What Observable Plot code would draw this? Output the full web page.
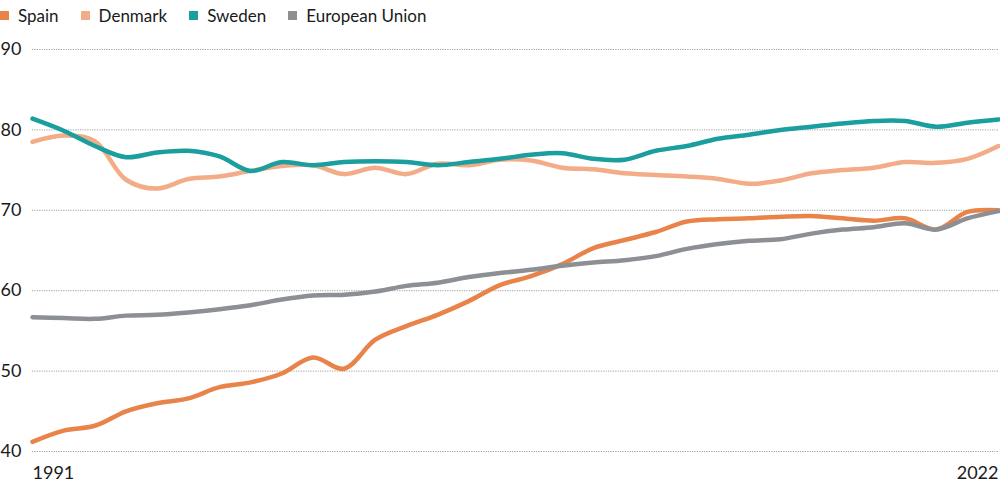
<!DOCTYPE html>
<html>
<head>
<meta charset="utf-8">
<script src="https://cdn.jsdelivr.net/npm/d3@7"></script>
<script src="https://cdn.jsdelivr.net/npm/@observablehq/plot@0.6"></script>
<style>
  body { margin: 0; background: #fff; font-family: Lato, "Noto Sans", sans-serif; }
  #legend { height: 30px; display: flex; align-items: center; font-size: 17px; color: #1a1a1a; }
  #legend .item { display: flex; align-items: center; margin-right: 22px; }
  #legend .sw { width: 9px; height: 9px; margin-right: 9px; }
  #chart svg { display: block; }
</style>
</head>
<body>
<div id="legend"></div>
<div id="chart"></div>
<script>
const years = d3.range(1991, 2023);
const seriesNames = ["Spain", "Denmark", "Sweden", "European Union"];
const seriesColors = ["#E8834A", "#F2AC87", "#1A9E9E", "#8C8F93"];
const yTicks = [40, 50, 60, 70, 80, 90];
const xTicks = [1991, 2022];

const spain = [41.2, 42.6, 43.2, 45.0, 46.0, 46.6, 48.0, 48.6, 49.7, 51.7, 50.3, 53.9, 55.6, 57.0, 58.7, 60.7, 61.8, 63.3, 65.3, 66.3, 67.3, 68.6, 68.9, 69.0, 69.2, 69.3, 69.0, 68.7, 69.0, 67.6, 69.8, 70.0];
const denmark = [78.5, 79.3, 78.6, 73.8, 72.7, 73.9, 74.2, 74.9, 75.5, 75.6, 74.5, 75.3, 74.5, 75.8, 75.6, 76.3, 76.2, 75.3, 75.1, 74.6, 74.4, 74.2, 73.9, 73.3, 73.7, 74.6, 75.0, 75.3, 76.0, 75.9, 76.4, 78.0];
const sweden = [81.4, 79.9, 78.0, 76.6, 77.2, 77.4, 76.7, 74.9, 76.0, 75.6, 76.0, 76.1, 76.0, 75.6, 76.0, 76.4, 76.9, 77.1, 76.4, 76.3, 77.4, 78.0, 78.9, 79.4, 80.0, 80.4, 80.8, 81.1, 81.1, 80.4, 80.9, 81.3];
const eu = [56.7, 56.6, 56.5, 56.9, 57.0, 57.3, 57.7, 58.2, 58.9, 59.4, 59.5, 59.9, 60.6, 61.0, 61.7, 62.2, 62.6, 63.1, 63.5, 63.8, 64.3, 65.2, 65.8, 66.2, 66.4, 67.1, 67.6, 67.9, 68.4, 67.6, 69.0, 69.9];

const seriesValues = [spain, denmark, sweden, eu];
const data = [];
seriesNames.forEach((name, i) => {
  years.forEach((yr, j) => data.push({ series: name, year: yr, value: seriesValues[i][j] }));
});

// legend
const legend = document.getElementById("legend");
seriesNames.forEach((name, i) => {
  const item = document.createElement("div");
  item.className = "item";
  const sw = document.createElement("div");
  sw.className = "sw";
  sw.style.background = seriesColors[i];
  const lb = document.createElement("span");
  lb.textContent = name;
  item.appendChild(sw);
  item.appendChild(lb);
  legend.appendChild(item);
});

const chart = Plot.plot({
  width: 1000,
  height: 456,
  marginTop: 19,
  marginBottom: 35,
  marginLeft: 32,
  marginRight: 2,
  style: { fontFamily: "Lato, 'Noto Sans', sans-serif", fontSize: "18px", color: "#1a1a1a", background: "#fff", overflow: "visible" },
  x: { domain: [1991, 2022] },
  y: { domain: [40, 90], axis: null },
  color: { domain: seriesNames, range: seriesColors },
  marks: [
    Plot.gridY(yTicks, { stroke: "#a0a0a0", strokeOpacity: 1, strokeWidth: 1, strokeDasharray: "1.2,1.2" }),
    Plot.text(yTicks, { y: d => d, frameAnchor: "left", textAnchor: "start", dx: -32, fontSize: 18, fill: "#1a1a1a" }),
    Plot.axisX([xTicks[0]], { tickSize: 0, textAnchor: "start", tickFormat: "d", label: null, dy: 6, fontSize: 18, fill: "#1a1a1a" }),
    Plot.axisX([xTicks[1]], { tickSize: 0, textAnchor: "end", tickFormat: "d", label: null, dy: 6, fontSize: 18, fill: "#1a1a1a" }),
    Plot.line(data, { x: "year", y: "value", z: "series", stroke: "series", strokeWidth: 4.5, curve: "catmull-rom", strokeLinecap: "round" })
  ]
});
document.getElementById("chart").appendChild(chart);
</script>
</body>
</html>
